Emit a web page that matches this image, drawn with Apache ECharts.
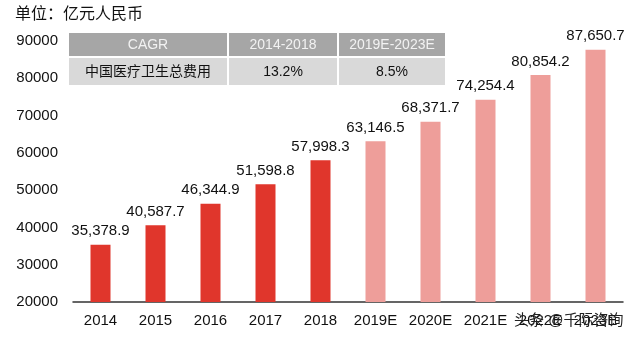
<!DOCTYPE html>
<html><head><meta charset="utf-8">
<script src="https://cdn.jsdelivr.net/npm/echarts@6/dist/echarts.min.js"></script>
<style>html,body{margin:0;padding:0;background:#fff}#c{width:640px;height:339px}</style>
</head><body><div id="c"></div>
<script>
const categories = ['2014','2015','2016','2017','2018','2019E','2020E','2021E','2022E','2023E'];
const values = [35378.9, 40587.7, 46344.9, 51598.8, 57998.3, 63146.5, 68371.7, 74254.4, 80854.2, 87650.7];
const actualCount = 5;
const yTicks = [20000, 30000, 40000, 50000, 60000, 70000, 80000, 90000];
const tableHeader = ['CAGR', '2014-2018', '2019E-2023E'];
const tableRow = ['中国医疗卫生总费用', '13.2%', '8.5%'];
const unitTitle = '单位：亿元人民币';
const watermark = '头条 @千际咨询';

const font = '"Liberation Sans", Arial, "Noto Sans CJK SC", sans-serif';
const chart = echarts.init(document.getElementById('c'));
const colX = [69, 229, 339, 447];
const gr = [];
tableHeader.forEach((t, i) => {
  gr.push({type:'rect', shape:{x:colX[i], y:33, width:colX[i+1]-colX[i]-2, height:23}, style:{fill:'#A6A6A6'}, z:10});
  gr.push({type:'text', x:(colX[i]+colX[i+1]-2)/2, y:45, style:{text:t, fill:'#f2f2f2', font:'14px '+font, align:'center', verticalAlign:'middle'}, z:11});
});
tableRow.forEach((t, i) => {
  gr.push({type:'rect', shape:{x:colX[i], y:58, width:colX[i+1]-colX[i]-2, height:27}, style:{fill:'#D9D9D9'}, z:10});
  gr.push({type:'text', x:(colX[i]+colX[i+1]-2)/2, y:72, style:{text:t, fill:'#111', font:'14px '+font, align:'center', verticalAlign:'middle'}, z:11});
});
gr.push({type:'text', x:15, y:15, style:{text:unitTitle, fill:'#111', font:'16px '+font, verticalAlign:'middle'}});
gr.push({type:'text', x:514, y:321, style:{text:watermark, fill:'#222', font:'15px '+font, verticalAlign:'middle'}, z:20});

chart.setOption({
  animation:false,
  grid:{left:73, right:17, top:41, bottom:37},
  xAxis:{type:'category', data:categories,
    axisLine:{lineStyle:{color:'#333', width:1.5}}, axisTick:{show:false},
    axisLabel:{color:'#111', fontSize:15, fontFamily:font, margin:11, interval:0, hideOverlap:false}},
  yAxis:{type:'value', min:yTicks[0], max:yTicks[yTicks.length-1], interval:10000,
    splitLine:{show:false}, axisLine:{show:false}, axisTick:{show:false},
    axisLabel:{color:'#111', fontSize:15, fontFamily:font, margin:15, formatter: v => String(v)}},
  series:[{type:'bar', barWidth:20,
    data: values.map((v, i) => ({value:v, itemStyle:{color: i < actualCount ? '#E0362C' : '#EE9E9A'}})),
    label:{show:true, position:'top', distance:6, color:'#111', fontSize:15, fontFamily:font,
      formatter: p => p.value.toLocaleString('en-US', {minimumFractionDigits:1, maximumFractionDigits:1})}
  }],
  graphic: gr
});
</script></body></html>
